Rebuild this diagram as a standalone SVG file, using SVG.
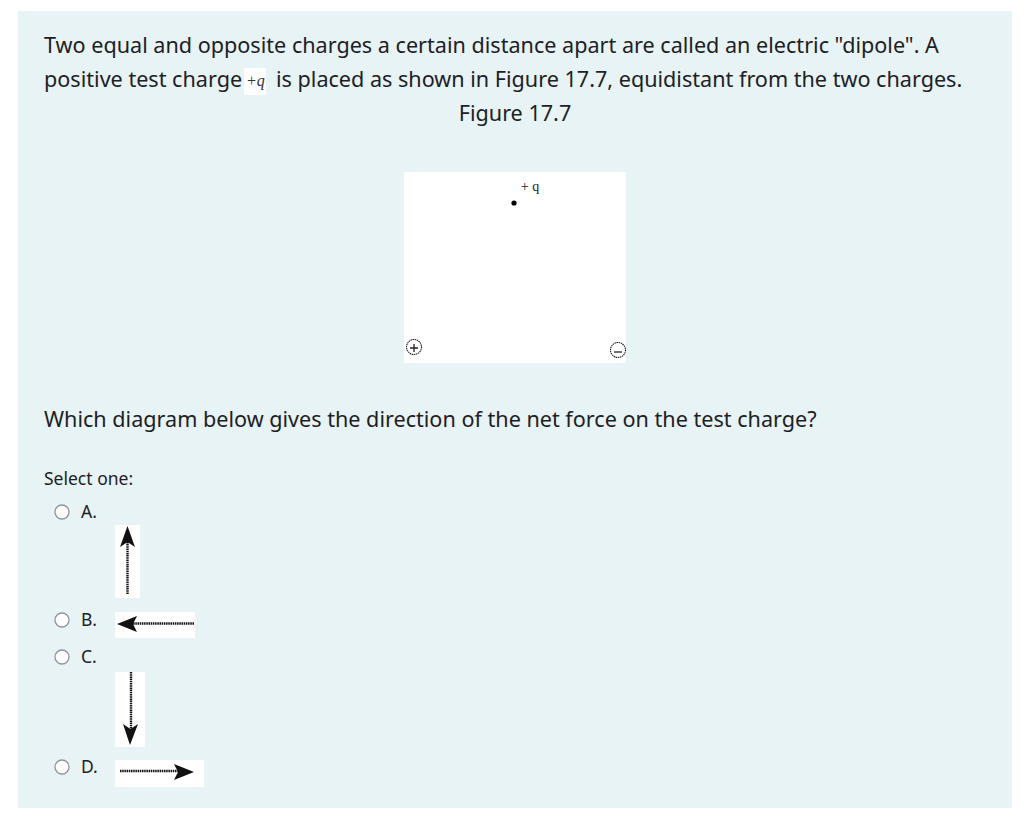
<svg xmlns="http://www.w3.org/2000/svg" width="1024" height="829" viewBox="0 0 1024 829">
<style>
.t{font-family:"Noto Sans","Open Sans",sans-serif;fill:#1d2125;font-size:21.6px}
.s{font-family:"Noto Sans","Open Sans",sans-serif;fill:#1d2125;font-size:17.5px}
.radio{fill:#fff;stroke:#8f959e;stroke-width:1.3}
.box{fill:#fff}
.ar{stroke:#111;stroke-width:2.4;stroke-dasharray:1.5 0.7;fill:none}
.hd{fill:#111}
</style>
<rect x="0" y="0" width="1024" height="829" fill="#fff"/>
<rect x="18" y="11" width="994" height="797" fill="#e7f3f5"/>
<text class="t" x="44" y="53">Two equal and opposite charges a certain distance apart are called an electric "dipole". A</text>
<text class="t" x="44" y="87">positive test charge</text>
<rect x="244" y="68" width="22" height="27" fill="#fff"/>
<text x="246" y="86" font-family="Liberation Serif,serif" font-size="16" font-style="italic" fill="#333">+q</text>
<text class="t" x="276" y="87">is placed as shown in Figure 17.7, equidistant from the two charges.</text>
<text class="t" x="515" y="121" text-anchor="middle">Figure 17.7</text>
<g id="figure">
<rect class="box" x="404" y="172" width="222" height="191"/>
<text x="530" y="191" font-family="Liberation Serif,serif" font-size="14" fill="#222" text-anchor="middle">+ q</text>
<circle cx="514" cy="203" r="2.6" fill="#000"/>
<g id="pos"><circle cx="414" cy="347" r="7.5" fill="none" stroke="#222" stroke-width="1.1" stroke-dasharray="1.5 0.6"/><path d="M410 348h8M414 344v8" stroke="#222" stroke-width="1.3"/></g>
<g id="neg"><circle cx="618" cy="350" r="7.5" fill="none" stroke="#222" stroke-width="1.1" stroke-dasharray="1.5 0.6"/><path d="M614 352h8" stroke="#222" stroke-width="1.3"/></g>
</g>
<text class="t" x="44" y="427">Which diagram below gives the direction of the net force on the test charge?</text>
<text class="s" x="44" y="485">Select one:</text>
<g id="optA">
<circle class="radio" cx="62" cy="512" r="7"/>
<text class="s" x="81" y="518">A.</text>
<rect class="box" x="115" y="525" width="25" height="73"/>
<line class="ar" x1="127.5" y1="594" x2="127.5" y2="540"/>
<path class="hd" d="M127.5 526 L135 547 L127.5 542 L120 547 Z"/>
</g>
<g id="optB">
<circle class="radio" cx="62" cy="620" r="7"/>
<text class="s" x="81" y="626">B.</text>
<rect class="box" x="115" y="612" width="80" height="26"/>
<line class="ar" x1="194" y1="623.5" x2="130" y2="623.5"/>
<path class="hd" d="M117 624 L137 616 L133 624 L137 632 Z"/>
</g>
<g id="optC">
<circle class="radio" cx="62" cy="657" r="7"/>
<text class="s" x="81" y="663">C.</text>
<rect class="box" x="115" y="672" width="30" height="75"/>
<line class="ar" x1="131" y1="672" x2="131" y2="732"/>
<path class="hd" d="M130 745 L123 724 L130.5 729 L138 724 Z"/>
</g>
<g id="optD">
<circle class="radio" cx="62" cy="767" r="7"/>
<text class="s" x="81" y="773">D.</text>
<rect class="box" x="115" y="760" width="89" height="27"/>
<line class="ar" x1="120" y1="771" x2="180" y2="771"/>
<path class="hd" d="M194 772 L174 764 L178 772 L174 780 Z"/>
</g>
</svg>
